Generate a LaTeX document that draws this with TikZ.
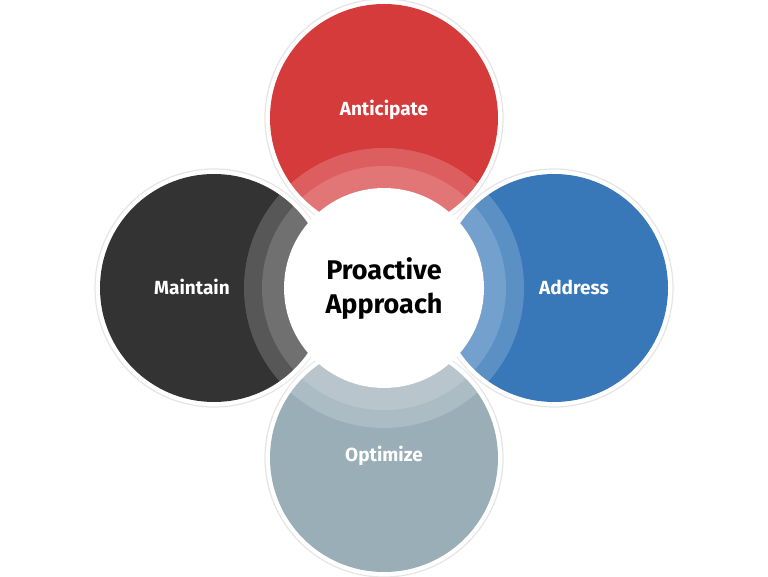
\documentclass[tikz,border=0pt]{standalone}
\usepackage{fontspec}
\setmainfont{Fira Sans}
\begin{document}
\begin{tikzpicture}[x=1pt,y=1pt,
  halo/.style={fill=white,draw=black!10,line width=1.2pt},
  lab/.style={text=white,font=\fontsize{19}{22}\selectfont\bfseries}]
\useasboundingbox (0,0) rectangle (768,576);
\fill[white] (0,0) rectangle (768,576);
\foreach \x/\y in {384/458, 384/118, 214/288, 554/288}
  \draw[halo] (\x,\y) circle (119);
\fill[fill={rgb,255:red,214;green,59;blue,59}] (384,458) circle (114);
\fill[fill={rgb,255:red,154;green,174;blue,184}] (384,118) circle (114);
\fill[fill={rgb,255:red,51;green,51;blue,51}] (214,288) circle (114);
\fill[fill={rgb,255:red,56;green,120;blue,184}] (554,288) circle (114);
\fill[white,opacity=0.18,even odd rule] (384,288) circle (140) (384,288) circle (100);
\fill[white,opacity=0.15,even odd rule] (384,288) circle (122) (384,288) circle (100);
\node[circle,fill=white,minimum size=200pt] (c) at (384,288) {};
\node[align=center,font=\fontsize{27}{34}\selectfont\bfseries] (ct) at (384,287) {Proactive\\Approach};
\node[lab] (a) at (384,466) {Anticipate};
\node[lab] (o) at (384,120) {Optimize};
\node[lab] (m) at (192,289) {Maintain};
\node[lab] (d) at (574,289) {Address};
\end{tikzpicture}
\end{document}
